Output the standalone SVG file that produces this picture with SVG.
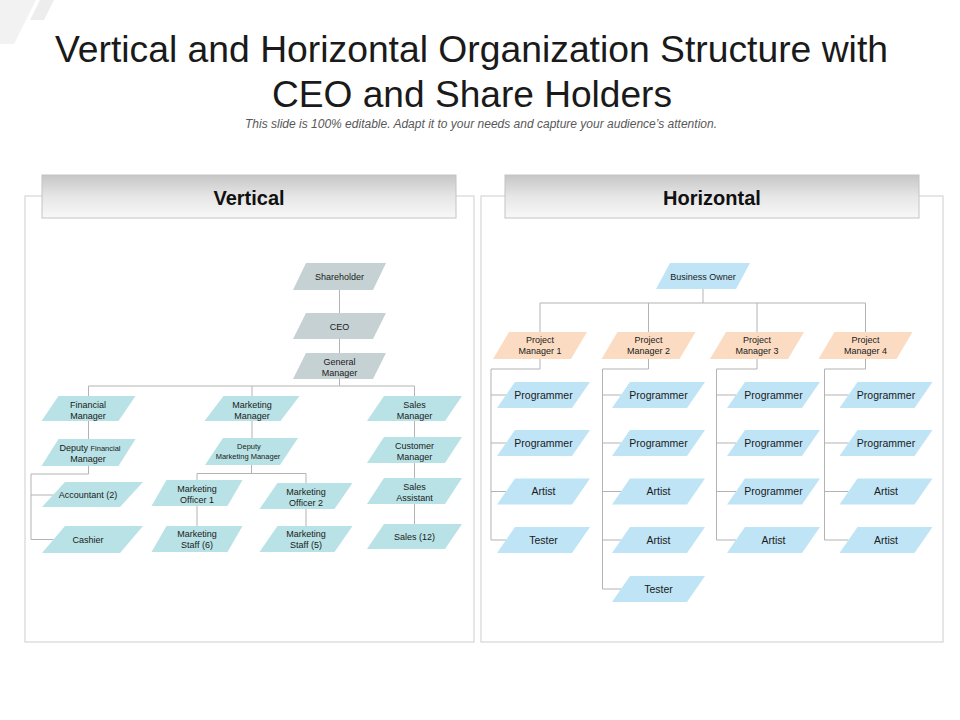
<svg xmlns="http://www.w3.org/2000/svg" width="960" height="720" viewBox="0 0 960 720">
<defs>
<linearGradient id="hdr" x1="0" y1="0" x2="0" y2="1">
<stop offset="0" stop-color="#c6c6c6"/>
<stop offset="0.5" stop-color="#e6e6e6"/>
<stop offset="1" stop-color="#f8f8f8"/>
</linearGradient>
<style>
.t{font-family:"Liberation Sans",Arial,sans-serif;fill:#1a1a1a;text-anchor:middle}
.s9{font-size:9px}
.s75{font-size:7.5px}
.s10{font-size:10.5px}
.gray{fill:#c6d1d4}
.cyan{fill:#b8e2e5}
.blue{fill:#bfe4f6}
.peach{fill:#fbdcc2}
.panel{fill:#ffffff;stroke:#d6d6d6;stroke-width:1.2}
.hbar{fill:url(#hdr);stroke:#c4c4c4;stroke-width:1}
.c{fill:none;stroke:#b3b3b3;stroke-width:1}
</style>
</defs>
<rect width="960" height="720" fill="#ffffff"/>
<g id="decoration">
<polygon points="0,0 36,0 14,44 0,44" fill="#f2f2f2"/>
<polygon points="40,0 54,0 44,20 30,20" fill="#ededed"/>
</g>
<g id="title">
<text class="t" x="471.5" y="62" font-size="37" textLength="833" lengthAdjust="spacingAndGlyphs">Vertical and Horizontal Organization Structure with</text>
<text class="t" x="472" y="107" font-size="37" textLength="400" lengthAdjust="spacingAndGlyphs">CEO and Share Holders</text>
<text class="t" x="481" y="128" font-size="12" font-style="italic" style="fill:#595959" textLength="472" lengthAdjust="spacingAndGlyphs">This slide is 100% editable. Adapt it to your needs and capture your audience’s attention.</text>
</g>
<g id="panel-vertical">
<rect class="panel" x="25" y="196" width="449" height="446"/>
<rect class="hbar" x="42" y="175" width="414" height="43"/>
<text class="t" x="249" y="205" font-size="20" font-weight="bold" style="fill:#111">Vertical</text>
</g>
<g id="panel-horizontal">
<rect class="panel" x="481" y="196" width="462" height="446"/>
<rect class="hbar" x="505" y="175" width="414" height="43"/>
<text class="t" x="712" y="205" font-size="20" font-weight="bold" style="fill:#111">Horizontal</text>
</g>
<g id="connectors">
<path class="c" d="M339.5,290 V313 M339.5,339 V353 M339.5,379 V386 M88.5,386 H414.5 M88.5,386 V396 M252,386 V396 M414.5,386 V396"/>
<path class="c" d="M88.5,421 V439 M88.5,466 V474 H31 V539.5 M31,495 H53.5 M31,539.5 H53.5"/>
<path class="c" d="M252,421 V438 M251.5,465 V473.5 M197,473.5 H306 M197,473.5 V480 M306,473.5 V483 M197,506 V526 M306,509 V526"/>
<path class="c" d="M414.5,421 V437 M414.5,463 V478 M414.5,504 V524"/>
<path class="c" d="M703,289 V303 M540,303 H865.5 M540,303 V332 M648.5,303 V332 M757,303 V332 M865.5,303 V332"/>
<path class="c" d="M540,359 V369 H491 V540 M491,395 H506 M491,443 H506 M491,491.5 H506 M491,540 H506"/>
<path class="c" d="M648.5,359 V369 H602.5 V589 M602.5,395 H621 M602.5,443 H621 M602.5,491.5 H621 M602.5,540 H621 M602.5,589 H621"/>
<path class="c" d="M757,359 V369 H716.5 V540 M716.5,395 H736 M716.5,443 H736 M716.5,491.5 H736 M716.5,540 H736"/>
<path class="c" d="M865.5,359 V369 H824.5 V540 M824.5,395 H848.5 M824.5,443 H848.5 M824.5,491.5 H848.5 M824.5,540 H848.5"/>
</g>
<g id="v-shareholder"><polygon class="gray" points="306,263 386,263 373,290 293,290"/><text class="t s9" x="339.5" y="280">Shareholder</text></g>
<g id="v-ceo"><polygon class="gray" points="306,313 386,313 373,339 293,339"/><text class="t s9" x="339.5" y="329.5">CEO</text></g>
<g id="v-gm"><polygon class="gray" points="306,353 386,353 373,379 293,379"/><text class="t s9" x="339.5" y="365">General</text><text class="t s9" x="339.5" y="376">Manager</text></g>
<g id="v-fm"><polygon class="cyan" points="58.5,396 135.5,396 118.5,421 41.5,421"/><text class="t s9" x="88" y="407.5">Financial</text><text class="t s9" x="88" y="418.5">Manager</text></g>
<g id="v-dfm"><polygon class="cyan" points="58.5,439 135.5,439 118.5,466 41.5,466"/><text class="t" x="90" y="451"><tspan class="s9">Deputy </tspan><tspan class="s75">Financial</tspan></text><text class="t s9" x="88" y="462">Manager</text></g>
<g id="v-accountant"><polygon class="cyan" points="65,482 143,482 120,507 42,507"/><text class="t s9" x="88" y="498">Accountant (2)</text></g>
<g id="v-cashier"><polygon class="cyan" points="65,526 143,526 120,553 42,553"/><text class="t s9" x="88" y="543">Cashier</text></g>
<g id="v-mm"><polygon class="cyan" points="223.5,396 299.5,396 280.5,421 204.5,421"/><text class="t s9" x="252" y="407.5">Marketing</text><text class="t s9" x="252" y="418.5">Manager</text></g>
<g id="v-dmm"><polygon class="cyan" points="223,438 298,438 280,465 205,465"/><text class="t s75" x="249" y="449">Deputy</text><text class="t s75" x="248" y="458.5">Marketing Manager</text></g>
<g id="v-mo1"><polygon class="cyan" points="166.5,480 242.5,480 227.5,506 151.5,506"/><text class="t s9" x="197" y="491.5">Marketing</text><text class="t s9" x="197" y="502.5">Officer 1</text></g>
<g id="v-ms6"><polygon class="cyan" points="166.5,526 242.5,526 227.5,552 151.5,552"/><text class="t s9" x="197" y="537">Marketing</text><text class="t s9" x="197" y="548">Staff (6)</text></g>
<g id="v-mo2"><polygon class="cyan" points="277.5,483 352.5,483 334.5,509 259.5,509"/><text class="t s9" x="306" y="494.5">Marketing</text><text class="t s9" x="306" y="505.5">Officer 2</text></g>
<g id="v-ms5"><polygon class="cyan" points="277.5,526 352.5,526 334.5,552 259.5,552"/><text class="t s9" x="306" y="537">Marketing</text><text class="t s9" x="306" y="548">Staff (5)</text></g>
<g id="v-sm"><polygon class="cyan" points="384,396 462,396 445,421 367,421"/><text class="t s9" x="414.5" y="407.5">Sales</text><text class="t s9" x="414.5" y="418.5">Manager</text></g>
<g id="v-cm"><polygon class="cyan" points="384,437 462,437 445,463 367,463"/><text class="t s9" x="414.5" y="448.5">Customer</text><text class="t s9" x="414.5" y="459.5">Manager</text></g>
<g id="v-sa"><polygon class="cyan" points="384,478 462,478 445,504 367,504"/><text class="t s9" x="414.5" y="489.5">Sales</text><text class="t s9" x="414.5" y="500.5">Assistant</text></g>
<g id="v-s12"><polygon class="cyan" points="384,524 462,524 445,549 367,549"/><text class="t s9" x="414.5" y="540">Sales (12)</text></g>
<g id="h-bo"><polygon class="blue" points="670,263 750,263 736,289 656,289"/><text class="t s9" x="703" y="279.5">Business Owner</text></g>
<g id="h-pm1"><polygon class="peach" points="509,332 587,332 571,359 493,359"/><text class="t s9" x="540" y="342.5">Project</text><text class="t s9" x="540" y="354">Manager  1</text></g>
<g id="h-pm2"><polygon class="peach" points="617.5,332 695.5,332 679.5,359 601.5,359"/><text class="t s9" x="648.5" y="342.5">Project</text><text class="t s9" x="648.5" y="354">Manager  2</text></g>
<g id="h-pm3"><polygon class="peach" points="726,332 804,332 788,359 710,359"/><text class="t s9" x="757" y="342.5">Project</text><text class="t s9" x="757" y="354">Manager  3</text></g>
<g id="h-pm4"><polygon class="peach" points="834.5,332 912.5,332 896.5,359 818.5,359"/><text class="t s9" x="865.5" y="342.5">Project</text><text class="t s9" x="865.5" y="354">Manager  4</text></g>
<g id="h-c1r1"><polygon class="blue" points="515,382 590,382 572,408 497,408"/><text class="t s10" x="543.5" y="398.7">Programmer</text></g>
<g id="h-c1r2"><polygon class="blue" points="515,430 590,430 572,456 497,456"/><text class="t s10" x="543.5" y="446.7">Programmer</text></g>
<g id="h-c1r3"><polygon class="blue" points="515,478.5 590,478.5 572,504.5 497,504.5"/><text class="t s10" x="543.5" y="495.2">Artist</text></g>
<g id="h-c1r4"><polygon class="blue" points="515,527 590,527 572,553 497,553"/><text class="t s10" x="543.5" y="543.7">Tester</text></g>
<g id="h-c2r1"><polygon class="blue" points="630,382 705,382 687,408 612,408"/><text class="t s10" x="658.5" y="398.7">Programmer</text></g>
<g id="h-c2r2"><polygon class="blue" points="630,430 705,430 687,456 612,456"/><text class="t s10" x="658.5" y="446.7">Programmer</text></g>
<g id="h-c2r3"><polygon class="blue" points="630,478.5 705,478.5 687,504.5 612,504.5"/><text class="t s10" x="658.5" y="495.2">Artist</text></g>
<g id="h-c2r4"><polygon class="blue" points="630,527 705,527 687,553 612,553"/><text class="t s10" x="658.5" y="543.7">Artist</text></g>
<g id="h-c2r5"><polygon class="blue" points="630,576 705,576 687,602 612,602"/><text class="t s10" x="658.5" y="592.7">Tester</text></g>
<g id="h-c3r1"><polygon class="blue" points="745,382 820,382 802,408 727,408"/><text class="t s10" x="773.5" y="398.7">Programmer</text></g>
<g id="h-c3r2"><polygon class="blue" points="745,430 820,430 802,456 727,456"/><text class="t s10" x="773.5" y="446.7">Programmer</text></g>
<g id="h-c3r3"><polygon class="blue" points="745,478.5 820,478.5 802,504.5 727,504.5"/><text class="t s10" x="773.5" y="495.2">Programmer</text></g>
<g id="h-c3r4"><polygon class="blue" points="745,527 820,527 802,553 727,553"/><text class="t s10" x="773.5" y="543.7">Artist</text></g>
<g id="h-c4r1"><polygon class="blue" points="857.5,382 932.5,382 914.5,408 839.5,408"/><text class="t s10" x="886" y="398.7">Programmer</text></g>
<g id="h-c4r2"><polygon class="blue" points="857.5,430 932.5,430 914.5,456 839.5,456"/><text class="t s10" x="886" y="446.7">Programmer</text></g>
<g id="h-c4r3"><polygon class="blue" points="857.5,478.5 932.5,478.5 914.5,504.5 839.5,504.5"/><text class="t s10" x="886" y="495.2">Artist</text></g>
<g id="h-c4r4"><polygon class="blue" points="857.5,527 932.5,527 914.5,553 839.5,553"/><text class="t s10" x="886" y="543.7">Artist</text></g>
</svg>
